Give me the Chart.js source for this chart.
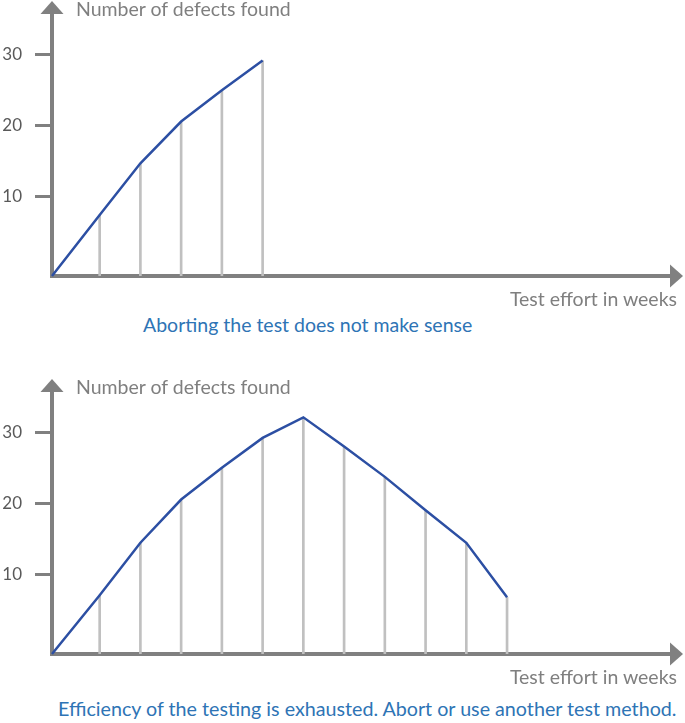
<!DOCTYPE html>
<html>
<head>
<meta charset="utf-8">
<script src="https://cdn.jsdelivr.net/npm/chart.js@4/dist/chart.umd.min.js"></script>
<style>
    body { margin: 0; background: #fff; }
    #wrap { position: relative; width: 685px; height: 723px; overflow: hidden; }
    .panel { position: absolute; left: 0; width: 685px; height: 290px; }
    .label { position: absolute; font-family: Lato, sans-serif; line-height: 1; white-space: nowrap; }
    .axis-title { font-size: 19.5px; color: #7f7f7f; }
    .caption { font-size: 19.5px; color: #2e74b5; }
</style>
</head>
<body>
<div id="wrap">
    <div class="panel" style="top:0"><canvas id="chart-top"></canvas></div>
    <div class="panel" style="top:378px"><canvas id="chart-bottom"></canvas></div>

    <div class="label axis-title" style="left:76px; top:-0.6px">Number of defects found</div>
    <div class="label axis-title" style="right:8px; top:288.7px">Test effort in weeks</div>
    <div class="label caption" style="left:143px; top:315px">Aborting the test does not make sense</div>

    <div class="label axis-title" style="left:76px; top:377.4px">Number of defects found</div>
    <div class="label axis-title" style="right:8px; top:666.7px">Test effort in weeks</div>
    <div class="label caption" style="left:58px; top:699px; font-size:19.7px">Efficiency of the testing is exhausted. Abort or use another test method.</div>
</div>

<script>
// weeks and defects found per week
const weeksTop = [1, 2, 3, 4, 5];
const defectsTop = [7.4, 14.7, 20.6, 25.0, 29.2];

const weeksBottom = [1, 2, 3, 4, 5, 6, 7, 8, 9, 10, 11];
const defectsBottom = [7.1, 14.5, 20.6, 25.1, 29.3, 32.2, 28.1, 23.8, 19.1, 14.5, 6.8];

const yTicks = [10, 20, 30];

// where the two axes meet, in data units
const originX = -0.17;
const originY = -1.2;
const xMax = 15;
const yMax = 36.06;

const axisGrey = '#808080';

const arrowHeads = {
    id: 'arrowHeads',
    afterDraw(chart) {
        const { ctx, chartArea } = chart;
        ctx.save();
        ctx.fillStyle = axisGrey;

        // up arrow on the y axis
        ctx.beginPath();
        ctx.moveTo(chartArea.left, chartArea.top - 11);
        ctx.lineTo(chartArea.left - 11.5, chartArea.top + 2);
        ctx.lineTo(chartArea.left + 11.5, chartArea.top + 2);
        ctx.closePath();
        ctx.fill();

        // right arrow on the x axis
        ctx.beginPath();
        ctx.moveTo(chartArea.right + 13, chartArea.bottom);
        ctx.lineTo(chartArea.right, chartArea.bottom - 11.5);
        ctx.lineTo(chartArea.right, chartArea.bottom + 11.5);
        ctx.closePath();
        ctx.fill();
        ctx.restore();
    }
};

function makeChart(canvasId, weeks, defects) {
    const linePoints = [{ x: originX, y: originY }].concat(
        weeks.map((w, i) => ({ x: w, y: defects[i] }))
    );
    const dropLines = weeks.map((w, i) => ({ x: w, y: [originY, defects[i]] }));

    return new Chart(document.getElementById(canvasId), {
        type: 'line',
        data: {
            datasets: [{
                type: 'line',
                data: linePoints,
                borderColor: '#2c4fa3',
                borderWidth: 2.5,
                pointRadius: 0,
                tension: 0,
                clip: false,
                order: 0
            }, {
                type: 'bar',
                data: dropLines,
                backgroundColor: '#c0c0c0',
                barThickness: 2,
                grouped: false,
                order: 1
            }]
        },
        options: {
            responsive: true,
            maintainAspectRatio: false,
            animation: false,
            events: [],
            layout: { padding: { top: 12, right: 15, left: 0, bottom: 0 } },
            plugins: {
                legend: { display: false },
                tooltip: { enabled: false }
            },
            scales: {
                x: {
                    type: 'linear',
                    min: originX,
                    max: xMax,
                    offset: false,
                    z: 1,
                    grid: { display: false },
                    border: { display: true, color: axisGrey, width: 4 },
                    ticks: { display: false },
                    afterFit: scale => { scale.height = 14; }
                },
                y: {
                    type: 'linear',
                    min: originY,
                    max: yMax,
                    afterBuildTicks: scale => {
                        scale.ticks = yTicks.map(v => ({ value: v }));
                    },
                    afterFit: scale => {
                        scale.width = 52;
                        scale.paddingTop = 0;
                        scale.paddingBottom = 0;
                    },
                    grid: {
                        drawOnChartArea: false,
                        drawTicks: true,
                        tickLength: 17,
                        tickWidth: 3,
                        tickColor: axisGrey,
                        color: axisGrey
                    },
                    border: { display: true, color: axisGrey, width: 4 },
                    ticks: {
                        padding: 13,
                        color: '#595959',
                        font: { family: 'Lato', size: 17 }
                    }
                }
            }
        },
        plugins: [arrowHeads]
    });
}

makeChart('chart-top', weeksTop, defectsTop);
makeChart('chart-bottom', weeksBottom, defectsBottom);
</script>
</body>
</html>
